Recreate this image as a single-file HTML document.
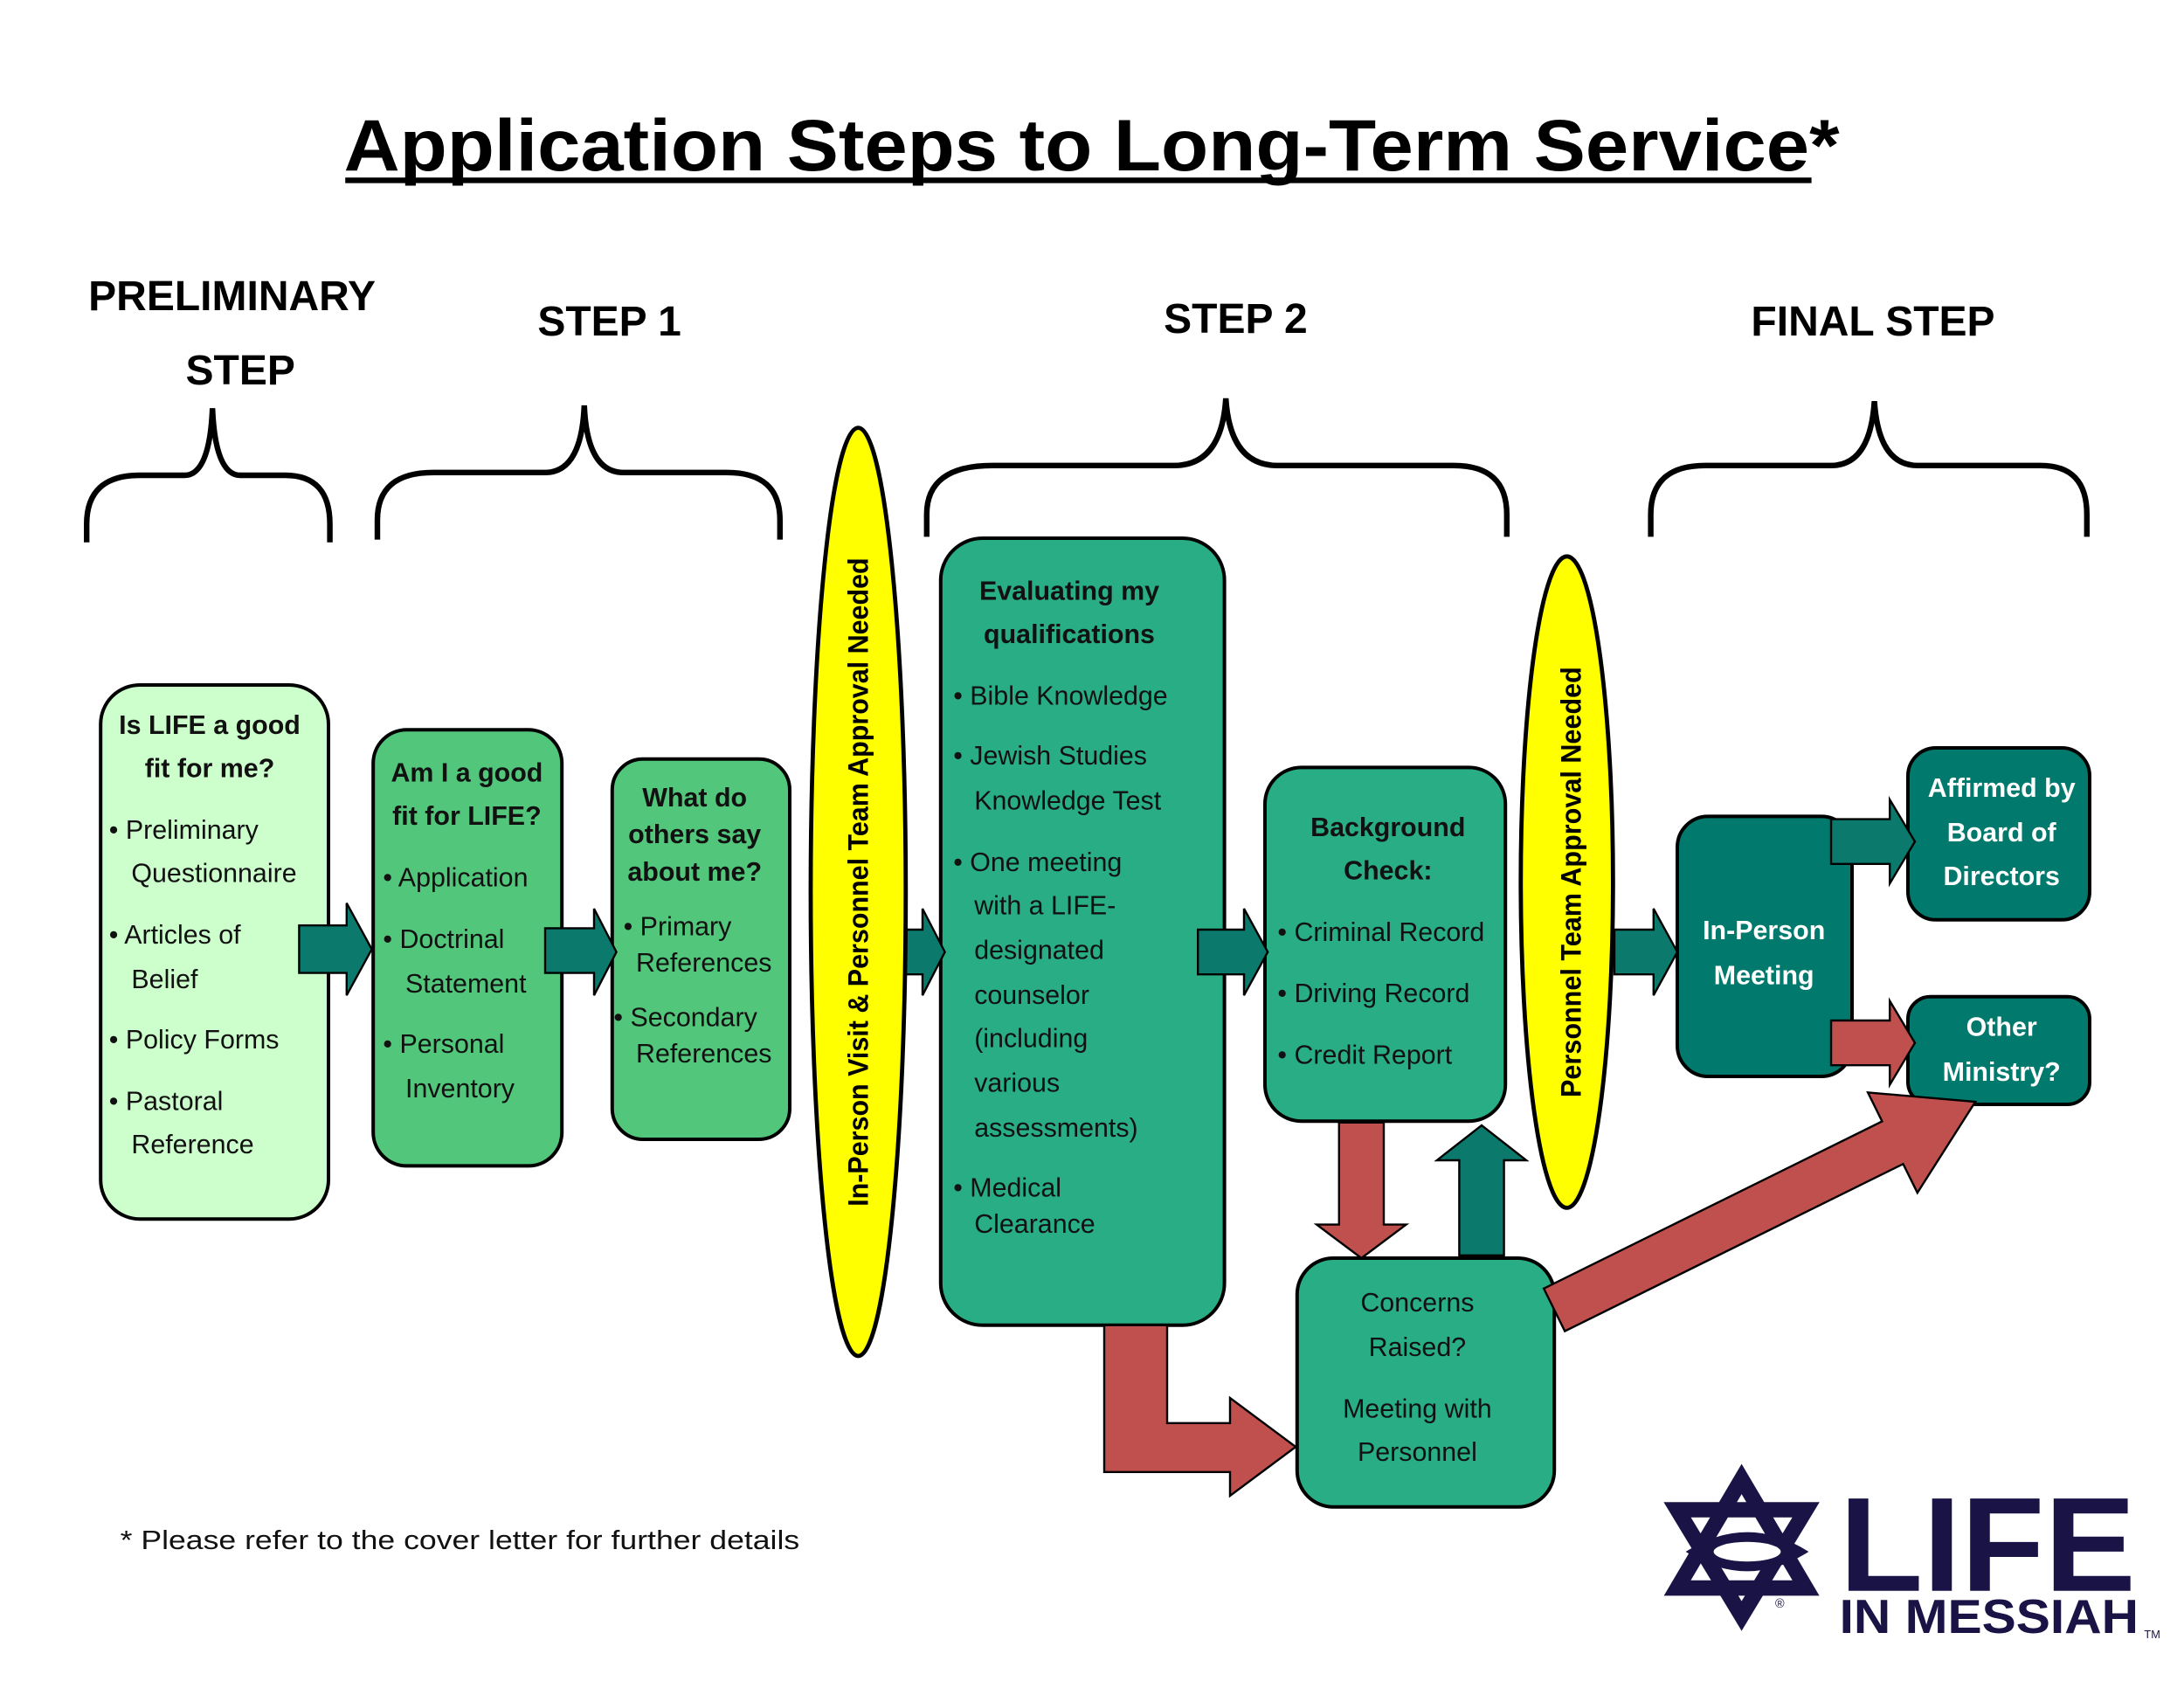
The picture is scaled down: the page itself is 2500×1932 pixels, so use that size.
<!DOCTYPE html>
<html><head><meta charset="utf-8"><style>html,body{margin:0;padding:0;background:#fff}svg{display:block}</style></head><body>
<svg width="2500" height="1932" viewBox="0 0 1562.5 1207.5" xmlns="http://www.w3.org/2000/svg" font-family="Liberation Sans, sans-serif">
<rect width="1562.5" height="1207.5" fill="#fff"/>
<text x="781" y="122" font-size="52" font-weight="bold" text-anchor="middle" textLength="1070" lengthAdjust="spacingAndGlyphs">Application Steps to Long-Term Service*</text>
<rect x="247" y="127" width="1049" height="4" fill="#000"/>
<g font-size="30" font-weight="bold" text-anchor="middle">
<text x="166" y="222">PRELIMINARY</text><text x="172" y="275">STEP</text>
<text x="436" y="240">STEP 1</text><text x="884" y="238">STEP 2</text><text x="1340" y="240">FINAL STEP</text>
</g>
<g fill="none" stroke="#000" stroke-width="4">
<path d="M62,388 V375 Q62,340 100,340 H132 Q150,340 152,292 Q154,340 172,340 H204 Q236,340 236,375 V388"/>
<path d="M270,386 V372 Q270,338 310,338 H390 Q416,338 418,290 Q420,338 446,338 H520 Q558,338 558,372 V386"/>
<path d="M663,384 V368 Q663,333 710,333 H840 Q874,333 877,285 Q880,333 914,333 H1040 Q1078,333 1078,368 V384"/>
<path d="M1181,384 V368 Q1181,333 1220,333 H1310 Q1338,333 1341,287 Q1344,333 1372,333 H1460 Q1493,333 1493,368 V384"/>
</g>
<g stroke="#000" stroke-width="2.5">
<rect x="72" y="490" width="163" height="382" rx="28" fill="#ccffcc"/>
<rect x="267" y="522" width="135" height="312" rx="24" fill="#52c67a"/>
<rect x="438" y="543" width="127" height="272" rx="22" fill="#52c67a"/>
<rect x="673" y="385" width="203" height="563" rx="30" fill="#29ad84"/>
<rect x="905" y="549" width="172" height="253" rx="26" fill="#29ad84"/>
<rect x="928" y="900" width="184" height="178" rx="26" fill="#29ad84"/>
<rect x="1200" y="584" width="125" height="186" rx="22" fill="#017a6d"/>
<rect x="1365" y="535" width="130" height="123" rx="20" fill="#017a6d"/>
<rect x="1365" y="713" width="130" height="77" rx="16" fill="#017a6d"/>
</g>
<g stroke="#000" stroke-width="1.5" fill="#0b7a6c">
<path d="M214,662 H248 V646 L266,679 L248,712 V696 H214 Z"/>
<path d="M390,664 H425 V650 L441,681 L425,712 V696 H390 Z"/>
<path d="M640,665 H660 V650 L676,681 L660,712 V697 H640 Z"/>
<path d="M857,665 H890 V650 L907,681 L890,712 V697 H857 Z"/>
<path d="M1155,665 H1183 V650 L1200,681 L1183,712 V697 H1155 Z"/>
<path d="M1310,586 H1352 V572 L1370,602 L1352,632 V618 H1310 Z"/>
<path d="M1044,898 V830 H1028 L1060,805 L1092,830 H1076 V898 Z"/>
</g>
<g stroke="#000" stroke-width="1.5" fill="#c0504d">
<path d="M1310,730 H1352 V716 L1370,746 L1352,776 V762 H1310 Z"/>
<path d="M958,803 H990 V876 H1006 L974,900 L942,876 H958 Z"/>
<path d="M790,948 H835 V1018 H880 V1000 L927,1035 L880,1070 V1053 H790 Z"/>
<g transform="translate(1112,937) rotate(-26.3)"><path d="M0,-17 H270 V-40 L336,0 L270,40 V17 H0 Z"/></g>
</g>
<g stroke="#000" stroke-width="3" fill="#ffff00">
<ellipse cx="614" cy="638" rx="34" ry="332"/>
<ellipse cx="1121" cy="631" rx="33" ry="233"/>
</g>
<g font-size="20" font-weight="bold" text-anchor="middle">
<text transform="translate(621,631) rotate(-90)" textLength="464" lengthAdjust="spacingAndGlyphs">In-Person Visit &amp; Personnel Team Approval Needed</text>
<text transform="translate(1131,631) rotate(-90)" textLength="308" lengthAdjust="spacingAndGlyphs">Personnel Team Approval Needed</text>
</g>
<g font-size="19" fill="#111">
<g font-weight="bold" text-anchor="middle">
<text x="150" y="525">Is LIFE a good</text><text x="150" y="556">fit for me?</text>
<text x="334" y="559">Am I a good</text><text x="334" y="590">fit for LIFE?</text>
<text x="497" y="577">What do</text><text x="497" y="603">others say</text><text x="497" y="630">about me?</text>
<text x="765" y="429">Evaluating my</text><text x="765" y="460">qualifications</text>
<text x="993" y="598">Background</text><text x="993" y="629">Check:</text>
</g>
<text x="78" y="600">• Preliminary</text><text x="94" y="631">Questionnaire</text>
<text x="78" y="675">• Articles of</text><text x="94" y="707">Belief</text>
<text x="78" y="750">• Policy Forms</text>
<text x="78" y="794">• Pastoral</text><text x="94" y="825">Reference</text>
<text x="274" y="634">• Application</text>
<text x="274" y="678">• Doctrinal</text><text x="290" y="710">Statement</text>
<text x="274" y="753">• Personal</text><text x="290" y="785">Inventory</text>
<text x="446" y="669">• Primary</text><text x="455" y="695">References</text>
<text x="439" y="734">• Secondary</text><text x="455" y="760">References</text>
<text x="682" y="504">• Bible Knowledge</text>
<text x="682" y="547">• Jewish Studies</text><text x="697" y="579">Knowledge Test</text>
<text x="682" y="623">• One meeting</text><text x="697" y="654">with a LIFE-</text><text x="697" y="686">designated</text><text x="697" y="718">counselor</text><text x="697" y="749">(including</text><text x="697" y="781">various</text><text x="697" y="813">assessments)</text>
<text x="682" y="856">• Medical</text><text x="697" y="882">Clearance</text>
<text x="914" y="673">• Criminal Record</text>
<text x="914" y="717">• Driving Record</text>
<text x="914" y="761">• Credit Report</text>
<g text-anchor="middle">
<text x="1014" y="938">Concerns</text><text x="1014" y="970">Raised?</text>
<text x="1014" y="1014">Meeting with</text><text x="1014" y="1045">Personnel</text>
</g>
<g font-weight="bold" text-anchor="middle" fill="#fff">
<text x="1262" y="672">In-Person</text><text x="1262" y="704">Meeting</text>
<text x="1432" y="570">Affirmed by</text><text x="1432" y="602">Board of</text><text x="1432" y="633">Directors</text>
<text x="1432" y="741">Other</text><text x="1432" y="773">Ministry?</text>
</g>
<text x="86" y="1108" textLength="486" lengthAdjust="spacingAndGlyphs">* Please refer to the cover letter for further details</text>
</g>
<g fill="none" stroke="#1a1446" stroke-width="11" stroke-linejoin="miter">
<path d="M1246,1058 L1292,1136 H1200 Z"/>
<path d="M1246,1156 L1200,1080 H1292 Z"/>
</g>
<path d="M1206,1110 Q1250,1082 1294,1110 Q1250,1138 1206,1110 Z" fill="#1a1446"/>
<ellipse cx="1250" cy="1110" rx="24" ry="7" fill="#fff"/>
<text x="1270" y="1150" font-size="9" fill="#1a1446">®</text>
<text x="1316" y="1138" font-size="96" font-weight="bold" fill="#1a1446" textLength="212" lengthAdjust="spacingAndGlyphs">LIFE</text>
<text x="1316" y="1168" font-size="34" font-weight="bold" fill="#1a1446" textLength="214" lengthAdjust="spacingAndGlyphs">IN MESSIAH</text>
<text x="1534" y="1172" font-size="8" fill="#1a1446">TM</text>
</svg>
</body></html>
